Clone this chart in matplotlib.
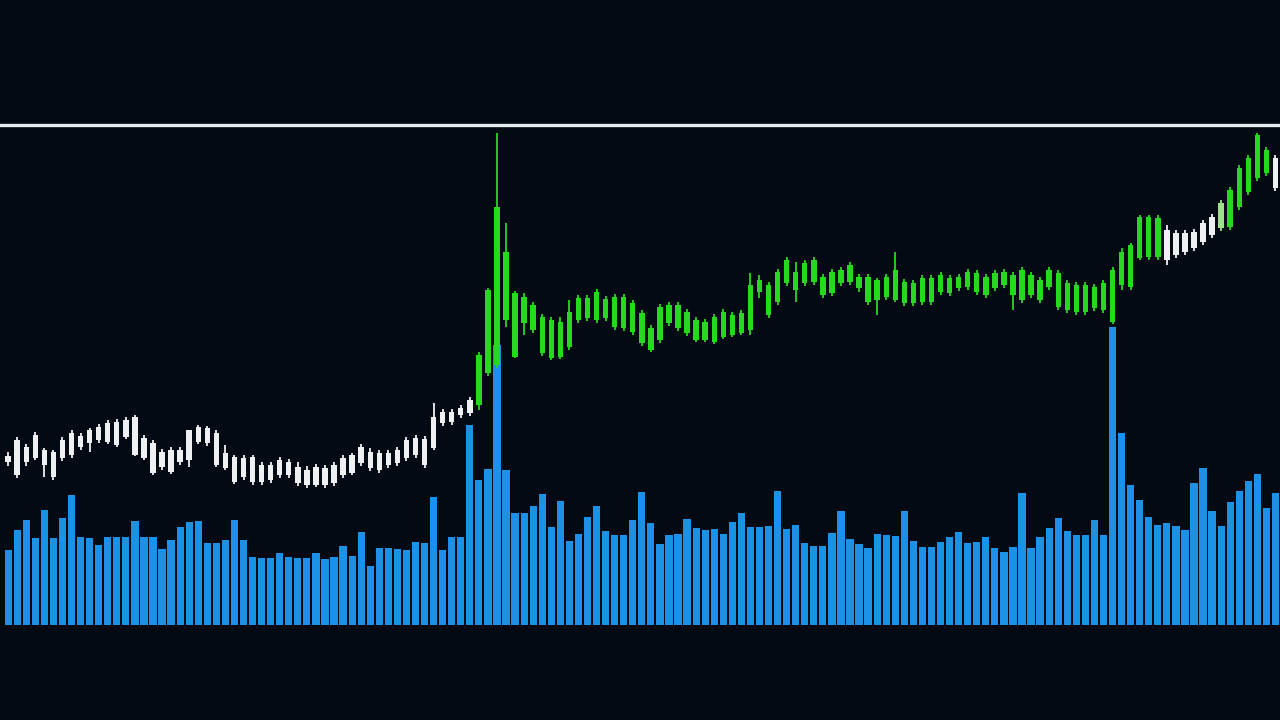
import numpy as np
import matplotlib
matplotlib.use("Agg")
from matplotlib import pyplot as plt

# candle data (price units)
highs = [268, 283, 276, 288, 272, 270, 283, 290, 287, 292, 296, 300, 301, 303, 305, 285, 280, 271, 273, 273,
         290, 295, 294, 290, 275, 265, 265, 265, 258, 258, 263, 261, 258, 254, 256, 255, 258, 265, 267, 276,
         272, 270, 270, 273, 283, 285, 284, 317, 311, 311, 315, 323, 368, 432, 587, 497, 429, 427, 418, 406,
         403, 403, 420, 425, 425, 431, 424, 426, 426, 420, 410, 395, 416, 418, 418, 411, 403, 401, 406, 411,
         408, 410, 447, 445, 438, 451, 463, 458, 460, 463, 446, 451, 453, 458, 446, 446, 442, 446, 468, 441,
         440, 445, 445, 448, 445, 446, 451, 450, 446, 450, 451, 448, 453, 448, 443, 453, 450, 440, 438, 438,
         436, 440, 453, 472, 477, 505, 505, 505, 495, 490, 490, 491, 500, 506, 520, 533, 555, 565, 587, 573,
         565]
body_top = [264, 280, 273, 285, 270, 268, 280, 287, 284, 290, 293, 297, 298, 300, 303, 282, 277, 268, 270, 270,
            290, 293, 292, 287, 267, 263, 262, 263, 255, 255, 260, 258, 253, 250, 253, 252, 255, 262, 265, 273,
            268, 267, 267, 270, 280, 282, 281, 303, 308, 308, 312, 320, 365, 430, 513, 468, 427, 423, 415, 403,
            400, 398, 408, 422, 422, 428, 421, 423, 423, 417, 407, 392, 413, 415, 415, 408, 400, 398, 403, 408,
            405, 407, 435, 440, 435, 448, 460, 448, 457, 460, 443, 448, 450, 455, 443, 443, 440, 443, 450, 438,
            437, 442, 442, 445, 442, 443, 448, 447, 443, 447, 448, 445, 450, 445, 440, 450, 447, 437, 435, 435,
            433, 437, 450, 468, 475, 503, 503, 502, 490, 487, 487, 488, 497, 503, 517, 530, 552, 562, 585, 570,
            562]
body_bot = [258, 245, 258, 262, 255, 243, 262, 265, 273, 277, 280, 278, 275, 283, 265, 262, 247, 253, 248, 258,
            260, 278, 277, 255, 252, 238, 243, 238, 238, 240, 245, 245, 237, 235, 235, 235, 237, 245, 247, 257,
            252, 250, 255, 257, 262, 265, 255, 272, 297, 298, 305, 307, 315, 347, 355, 400, 363, 397, 390, 367,
            362, 363, 373, 400, 402, 400, 402, 393, 392, 388, 377, 370, 380, 397, 392, 387, 380, 380, 378, 383,
            385, 387, 390, 428, 405, 418, 437, 430, 437, 438, 425, 427, 437, 438, 432, 418, 420, 423, 420, 417,
            417, 418, 418, 428, 427, 432, 433, 428, 425, 432, 435, 425, 420, 425, 420, 433, 413, 410, 408, 408,
            412, 410, 398, 435, 433, 462, 463, 463, 460, 465, 468, 472, 478, 485, 492, 493, 513, 528, 542, 547,
            532]
lows = [254, 242, 254, 260, 243, 240, 259, 262, 270, 268, 277, 276, 273, 281, 264, 260, 245, 250, 246, 255,
        253, 276, 274, 253, 250, 236, 240, 235, 235, 237, 242, 242, 234, 232, 233, 232, 234, 242, 245, 254,
        249, 247, 252, 254, 259, 262, 252, 270, 294, 295, 302, 304, 310, 344, 352, 393, 362, 385, 387, 364,
        360, 361, 370, 397, 399, 397, 399, 390, 389, 385, 374, 368, 377, 394, 389, 384, 378, 378, 376, 381,
        383, 385, 385, 422, 402, 415, 434, 418, 434, 435, 422, 424, 434, 435, 428, 415, 405, 420, 418, 414,
        414, 415, 415, 425, 424, 429, 430, 425, 422, 429, 432, 410, 417, 422, 417, 430, 410, 407, 405, 405,
        409, 407, 396, 430, 430, 460, 460, 460, 455, 462, 465, 469, 475, 482, 489, 490, 510, 525, 539, 544,
        529]
# candle colour regime: w = white, g = green, l = light green
regime = "w" * 52 + "g" * 76 + "w" * 6 + "l" + "g" * 5 + "w"

volume = [75, 95, 105, 87, 115, 87, 107, 130, 88, 87, 80, 88, 88, 88, 104, 88, 88, 76, 85, 98,
          103, 104, 82, 82, 85, 105, 85, 68, 67, 67, 72, 68, 67, 67, 72, 66, 68, 79, 69, 93,
          59, 77, 77, 76, 75, 83, 82, 128, 75, 88, 88, 200, 145, 156, 280, 155, 112, 112, 119, 131,
          98, 124, 84, 91, 108, 119, 94, 90, 90, 105, 133, 102, 81, 90, 91, 106, 97, 95, 96, 91,
          103, 112, 98, 98, 99, 134, 96, 100, 82, 79, 79, 92, 114, 86, 81, 77, 91, 90, 89, 114,
          84, 78, 78, 83, 88, 93, 82, 83, 88, 77, 73, 78, 132, 77, 88, 97, 107, 94, 90, 90,
          105, 90, 298, 192, 140, 125, 108, 100, 102, 99, 95, 142, 157, 114, 99, 123, 134, 144, 151, 117,
          132]

level = 595

bg = '#040a14'
colors = {'w': '#eef0f2', 'g': '#26d81e', 'l': '#9fe08a'}

x = np.arange(len(highs))
cc = [colors[r] for r in regime]

fig = plt.figure(figsize=(12.8, 7.2), dpi=100, facecolor=bg)
axv = fig.add_axes([0, 0, 1, 1])
axp = fig.add_axes([0, 0, 1, 1], sharex=axv)
for a in (axv, axp):
    a.set_axis_off()
axv.set_facecolor(bg)
axp.patch.set_visible(False)

# volume
axv.bar(x, volume, width=0.8, color='#1c92e6', edgecolor='none')
axv.set_ylim(-95, 625)

# candles
axp.vlines(x, lows, highs, colors=cc, linewidth=1.3)
axp.bar(x, np.array(body_top) - np.array(body_bot), bottom=body_bot, width=0.6, color=cc, edgecolor='none')
axp.axhline(level, color='#e8edf0', linewidth=2.4)
axp.set_ylim(0, 720)
axv.set_xlim(-0.9, len(x) - 0.5)

fig.savefig('out.png', dpi=100, facecolor=bg)
